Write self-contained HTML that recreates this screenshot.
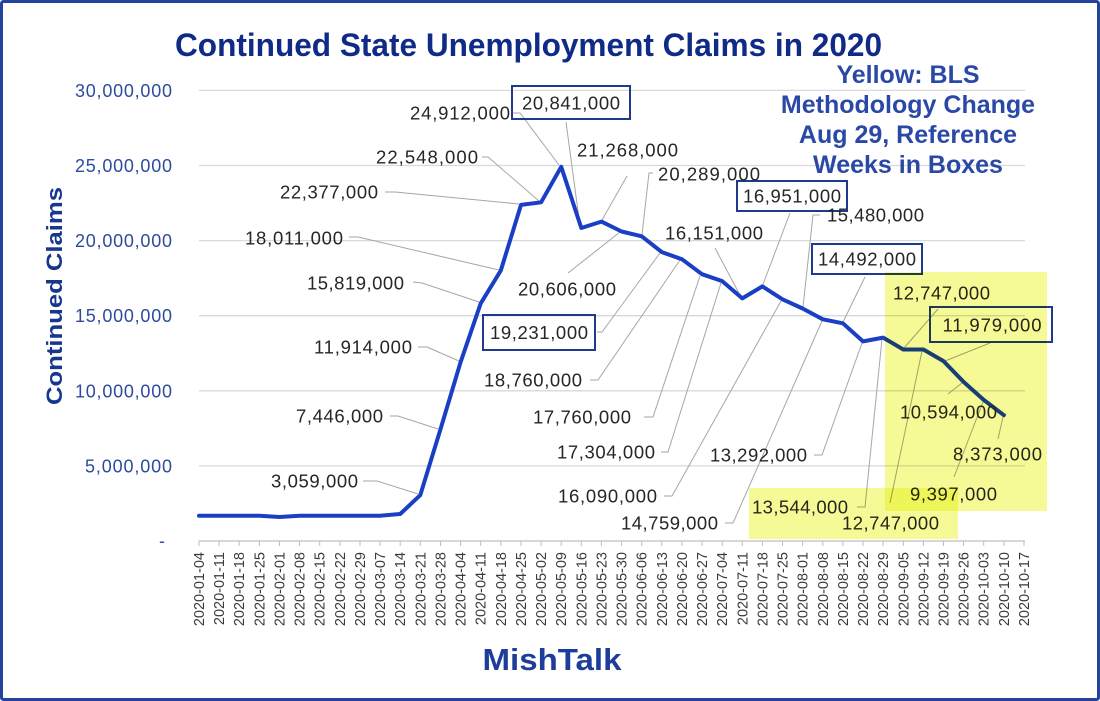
<!DOCTYPE html>
<html>
<head>
<meta charset="utf-8">
<style>
  html, body { margin:0; padding:0; background:#ffffff; }
  body { width:1100px; height:701px; overflow:hidden; }
  svg { display:block; }
  .yl { font-family:"Liberation Sans", Arial, sans-serif; font-size:18px; fill:#2d4b9f; text-anchor:end; }
  .dl { font-family:"Liberation Sans", Arial, sans-serif; font-size:18.5px; fill:#262626; }
  .xl { font-family:"Liberation Sans", Arial, sans-serif; font-size:14.5px; fill:#3a3a3a; text-anchor:end; }
  .ld { fill:none; stroke:#a6a6a6; stroke-width:1; }
  .bx { fill:none; stroke:#1f3a8a; stroke-width:2; }
  .ann { font-family:"Liberation Sans", Arial, sans-serif; font-size:25px; font-weight:bold; fill:#2a48a6; text-anchor:middle; }
</style>
</head>
<body>
<svg width="1100" height="701" viewBox="0 0 1100 701" xmlns="http://www.w3.org/2000/svg">
  <rect x="0" y="0" width="1100" height="701" fill="#ffffff"/>

  <!-- Title -->
  <text x="175" y="56" textLength="707" lengthAdjust="spacingAndGlyphs" font-family="Liberation Sans, Arial, sans-serif" font-size="32" font-weight="bold" fill="#0f2b87">Continued State Unemployment Claims in 2020</text>

  <!-- Gridlines -->
  <g stroke="#d9d9d9" stroke-width="1.3">
    <line x1="199" y1="90.4" x2="1025" y2="90.4"/>
    <line x1="199" y1="165.5" x2="1025" y2="165.5"/>
    <line x1="199" y1="240.6" x2="1025" y2="240.6"/>
    <line x1="199" y1="315.7" x2="1025" y2="315.7"/>
    <line x1="199" y1="390.8" x2="1025" y2="390.8"/>
    <line x1="199" y1="465.9" x2="1025" y2="465.9"/>
  </g>
  <!-- X axis -->
  <line x1="199" y1="541" x2="1025" y2="541" stroke="#bfbfbf" stroke-width="1.3"/>
  <path stroke="#bfbfbf" stroke-width="1" d="M199,541v5 M219.1,541v5 M239.2,541v5 M259.4,541v5 M279.5,541v5 M299.6,541v5 M319.7,541v5 M339.9,541v5 M360,541v5 M380.1,541v5 M400.2,541v5 M420.3,541v5 M440.5,541v5 M460.6,541v5 M480.7,541v5 M500.8,541v5 M521,541v5 M541.1,541v5 M561.2,541v5 M581.3,541v5 M601.4,541v5 M621.6,541v5 M641.7,541v5 M661.8,541v5 M681.9,541v5 M702,541v5 M722.2,541v5 M742.3,541v5 M762.4,541v5 M782.5,541v5 M802.6,541v5 M822.8,541v5 M842.9,541v5 M863,541v5 M883.1,541v5 M903.3,541v5 M923.4,541v5 M943.5,541v5 M963.6,541v5 M983.7,541v5 M1003.9,541v5 M1024,541v5"/>

  <!-- Y tick labels -->
  <text class="yl" x="172" y="96.9" textLength="97">30,000,000</text>
  <text class="yl" x="172" y="172" textLength="97">25,000,000</text>
  <text class="yl" x="172" y="247.1" textLength="97">20,000,000</text>
  <text class="yl" x="172" y="322.2" textLength="97">15,000,000</text>
  <text class="yl" x="172" y="397.3" textLength="97">10,000,000</text>
  <text class="yl" x="172" y="472.4" textLength="87">5,000,000</text>
  <text class="yl" x="165" y="547">-</text>

  <!-- Y axis title -->
  <text transform="translate(62,296) rotate(-90)" text-anchor="middle" font-family="Liberation Sans, Arial, sans-serif" font-size="22" font-weight="bold" fill="#17378f" textLength="218" lengthAdjust="spacingAndGlyphs">Continued  Claims</text>

  <!-- X labels -->
  <g class="xl">
    <text transform="translate(204,552) rotate(-90)">2020-01-04</text>
    <text transform="translate(224.1,552) rotate(-90)">2020-01-11</text>
    <text transform="translate(244.2,552) rotate(-90)">2020-01-18</text>
    <text transform="translate(264.4,552) rotate(-90)">2020-01-25</text>
    <text transform="translate(284.5,552) rotate(-90)">2020-02-01</text>
    <text transform="translate(304.6,552) rotate(-90)">2020-02-08</text>
    <text transform="translate(324.7,552) rotate(-90)">2020-02-15</text>
    <text transform="translate(344.9,552) rotate(-90)">2020-02-22</text>
    <text transform="translate(365,552) rotate(-90)">2020-02-29</text>
    <text transform="translate(385.1,552) rotate(-90)">2020-03-07</text>
    <text transform="translate(405.2,552) rotate(-90)">2020-03-14</text>
    <text transform="translate(425.3,552) rotate(-90)">2020-03-21</text>
    <text transform="translate(445.5,552) rotate(-90)">2020-03-28</text>
    <text transform="translate(465.6,552) rotate(-90)">2020-04-04</text>
    <text transform="translate(485.7,552) rotate(-90)">2020-04-11</text>
    <text transform="translate(505.8,552) rotate(-90)">2020-04-18</text>
    <text transform="translate(526,552) rotate(-90)">2020-04-25</text>
    <text transform="translate(546.1,552) rotate(-90)">2020-05-02</text>
    <text transform="translate(566.2,552) rotate(-90)">2020-05-09</text>
    <text transform="translate(586.3,552) rotate(-90)">2020-05-16</text>
    <text transform="translate(606.4,552) rotate(-90)">2020-05-23</text>
    <text transform="translate(626.6,552) rotate(-90)">2020-05-30</text>
    <text transform="translate(646.7,552) rotate(-90)">2020-06-06</text>
    <text transform="translate(666.8,552) rotate(-90)">2020-06-13</text>
    <text transform="translate(686.9,552) rotate(-90)">2020-06-20</text>
    <text transform="translate(707,552) rotate(-90)">2020-06-27</text>
    <text transform="translate(727.2,552) rotate(-90)">2020-07-04</text>
    <text transform="translate(747.3,552) rotate(-90)">2020-07-11</text>
    <text transform="translate(767.4,552) rotate(-90)">2020-07-18</text>
    <text transform="translate(787.5,552) rotate(-90)">2020-07-25</text>
    <text transform="translate(807.6,552) rotate(-90)">2020-08-01</text>
    <text transform="translate(827.8,552) rotate(-90)">2020-08-08</text>
    <text transform="translate(847.9,552) rotate(-90)">2020-08-15</text>
    <text transform="translate(868,552) rotate(-90)">2020-08-22</text>
    <text transform="translate(888.1,552) rotate(-90)">2020-08-29</text>
    <text transform="translate(908.3,552) rotate(-90)">2020-09-05</text>
    <text transform="translate(928.4,552) rotate(-90)">2020-09-12</text>
    <text transform="translate(948.5,552) rotate(-90)">2020-09-19</text>
    <text transform="translate(968.6,552) rotate(-90)">2020-09-26</text>
    <text transform="translate(988.7,552) rotate(-90)">2020-10-03</text>
    <text transform="translate(1008.9,552) rotate(-90)">2020-10-10</text>
    <text transform="translate(1029,552) rotate(-90)">2020-10-17</text>
  </g>

  <!-- Leader lines -->
  <g class="ld">
    <polyline points="363,481 377,481 418,494"/>
    <polyline points="390,416 398,416 438,429"/>
    <polyline points="418,347 427,347 459,361"/>
    <polyline points="413,282 422,283 479,302"/>
    <polyline points="349,237 358,237 499,270"/>
    <polyline points="385,192 395,192 519,204"/>
    <polyline points="482,157 488,157 539,201"/>
    <polyline points="513,113 520,113 559,165"/>
    <polyline points="566,122 580,226"/>
    <polyline points="627,176 602,220"/>
    <polyline points="653,173 649,173 642,235"/>
    <polyline points="568,273 620,232"/>
    <polyline points="597,332 602,332 660,253"/>
    <polyline points="590,380 598,380 680,260"/>
    <polyline points="644,417 653,417 700,276"/>
    <polyline points="661,452 668,452 721,283"/>
    <polyline points="715,248 741,297"/>
    <polyline points="790,213 762,287"/>
    <polyline points="820,215 813,215 803,307"/>
    <polyline points="664,496 672,496 781,301"/>
    <polyline points="725,523 733,523 822,321"/>
    <polyline points="865,277 843,322"/>
    <polyline points="814,455 822,455 862,343"/>
    <polyline points="857,507 865,507 882,339"/>
    <polyline points="890,503 922,351"/>
    <polyline points="938,309 904,348"/>
    <polyline points="990,343 945,361"/>
    <polyline points="948,394 962,383"/>
    <polyline points="954,477 983,402"/>
    <polyline points="998,439 1003,417"/>
  </g>

  <!-- Data line -->
  <polyline fill="none" stroke="#1a3fc4" stroke-width="4" stroke-linejoin="round" stroke-linecap="round"
    points="199,515.7 219.1,515.7 239.2,515.7 259.4,515.7 279.5,517 299.6,515.8 319.7,515.7 339.9,515.7 360,515.7 380.1,515.7 400.2,514 420.3,495.1 440.5,429.2 460.6,362.1 480.7,303.4 500.8,270.5 521,204.9 541.1,202.3 561.2,166.8 581.3,228 601.4,221.6 621.6,231.5 641.7,236.3 661.8,252.1 681.9,259.2 702,274.2 722.2,281.1 742.3,298.4 762.4,286.4 782.5,299.3 802.6,308.5 822.8,319.3 842.9,323.3 863,341.4 883.1,337.6 903.3,349.5 923.4,349.5 943.5,361.1 963.6,381.9 983.7,399.9 1003.9,415.2"/>

  <!-- Data labels (left side) -->
  <text class="dl" x="271" y="487.5" textLength="87">3,059,000</text>
  <text class="dl" x="296" y="422.5" textLength="87">7,446,000</text>
  <text class="dl" x="314" y="353.5" textLength="98">11,914,000</text>
  <text class="dl" x="307" y="289.5" textLength="97">15,819,000</text>
  <text class="dl" x="245" y="244.5" textLength="98">18,011,000</text>
  <text class="dl" x="280" y="198.5" textLength="98">22,377,000</text>
  <text class="dl" x="376" y="163.5" textLength="102">22,548,000</text>
  <text class="dl" x="410" y="119.5" textLength="100">24,912,000</text>

  <!-- Boxed labels -->
  <rect class="bx" x="512" y="86" width="118" height="33"/>
  <text class="dl" x="571" y="109.5" text-anchor="middle" textLength="98">20,841,000</text>
  <rect class="bx" x="483" y="315" width="112" height="35"/>
  <text class="dl" x="539" y="339" text-anchor="middle" textLength="98">19,231,000</text>
  <rect class="bx" x="737" y="181" width="110" height="30"/>
  <text class="dl" x="792" y="202.5" text-anchor="middle" textLength="98">16,951,000</text>
  <rect class="bx" x="812" y="244" width="110" height="30"/>
  <text class="dl" x="867" y="265.5" text-anchor="middle" textLength="98">14,492,000</text>
  <rect class="bx" x="930" y="307" width="122" height="35"/>
  <text class="dl" x="992" y="331.5" text-anchor="middle" textLength="99">11,979,000</text>

  <!-- Data labels (right side) -->
  <text class="dl" x="577" y="156.5" textLength="101">21,268,000</text>
  <text class="dl" x="658" y="180.5" textLength="102">20,289,000</text>
  <text class="dl" x="518" y="295.5" textLength="98">20,606,000</text>
  <text class="dl" x="484" y="386.5" textLength="98">18,760,000</text>
  <text class="dl" x="533" y="423.5" textLength="98">17,760,000</text>
  <text class="dl" x="557" y="458.5" textLength="98">17,304,000</text>
  <text class="dl" x="665" y="239.5" textLength="98">16,151,000</text>
  <text class="dl" x="827" y="221.5" textLength="97">15,480,000</text>
  <text class="dl" x="558" y="502.5" textLength="99">16,090,000</text>
  <text class="dl" x="621" y="529.5" textLength="97">14,759,000</text>
  <text class="dl" x="710" y="461.5" textLength="97">13,292,000</text>
  <text class="dl" x="752" y="513.5" textLength="96">13,544,000</text>
  <text class="dl" x="842" y="529.5" textLength="97">12,747,000</text>
  <text class="dl" x="893" y="299.5" textLength="97">12,747,000</text>
  <text class="dl" x="900" y="418.5" textLength="97">10,594,000</text>
  <text class="dl" x="910" y="500.5" textLength="87">9,397,000</text>
  <text class="dl" x="953" y="460.5" textLength="89">8,373,000</text>

  <!-- Annotation -->
  <text class="ann" x="908" y="83">Yellow: BLS</text>
  <text class="ann" x="908" y="113">Methodology Change</text>
  <text class="ann" x="908" y="143">Aug 29, Reference</text>
  <text class="ann" x="908" y="173">Weeks in Boxes</text>

  <!-- Yellow highlight rectangles (multiply) -->
  <rect x="885" y="272" width="162" height="239" fill="#f6fa96" style="mix-blend-mode:multiply"/>
  <rect x="749" y="488" width="209" height="51" fill="#f6fa96" style="mix-blend-mode:multiply"/>

  <!-- MishTalk -->
  <text x="552" y="670" text-anchor="middle" textLength="139" lengthAdjust="spacingAndGlyphs" font-family="Liberation Sans, Arial, sans-serif" font-size="31" font-weight="bold" fill="#1e3d9a">MishTalk</text>

  <!-- Outer border -->
  <rect x="1.5" y="1.5" width="1097" height="698" rx="2" fill="none" stroke="#24439a" stroke-width="3"/>
</svg>
</body>
</html>
